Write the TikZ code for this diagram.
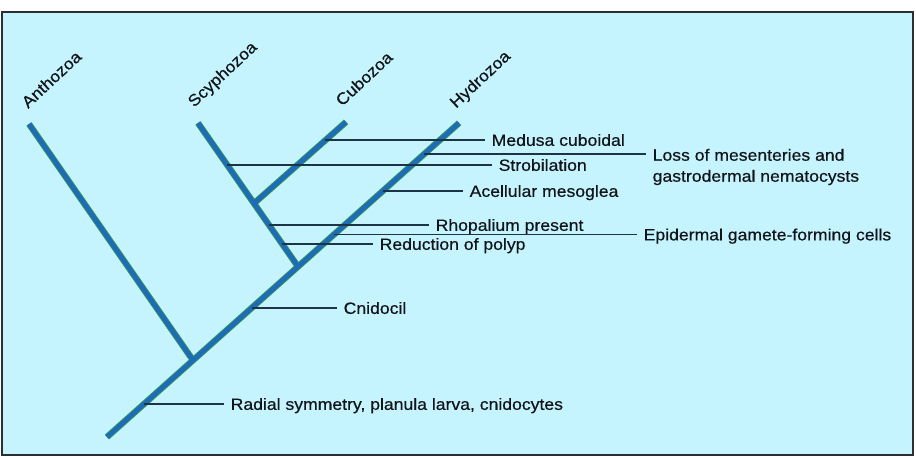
\documentclass[tikz,border=0pt]{standalone}
\usepackage{fontspec}
\setmainfont{Liberation Sans}[FakeStretch=1.08,FakeBold=0.5]
\definecolor{bg}{HTML}{C6F4FE}
\definecolor{boxc}{HTML}{2A2F33}
\definecolor{branchblue}{HTML}{1E6CB8}
\definecolor{branchgreen}{HTML}{3A9E4E}
\definecolor{tickc}{HTML}{1C3443}
\definecolor{txt}{HTML}{111418}
\begin{document}
\begin{tikzpicture}[x=1pt,y=-1pt,
  branch/.style={draw=branchblue, line width=4.8pt,
    preaction={draw=branchgreen, line width=6.4pt}},
  tick/.style={draw=tickc, line width=1.4pt},
  lblbase/.style={anchor=west, inner xsep=6.5pt, inner ysep=0pt, text=txt,
    font=\fontsize{16.3}{21}\selectfont},
  lbl/.style={lblbase, text height=11.7pt, text depth=0pt},
  taxon/.style={anchor=base west, rotate=43, inner sep=0pt, text=txt,
    font=\fontsize{16.3}{20}\selectfont}]
\useasboundingbox (0,0) rectangle (916,458);
\fill[white] (0,0) rectangle (916,458);
\draw[fill=bg, draw=boxc, line width=1.5pt] (2,12) rectangle (913,455);

% tree skeleton
\coordinate (root) at (107,437);
\coordinate (hyd) at (459,123);
\coordinate (ant) at (29,124);
\coordinate (j1) at (193,360.3);
\coordinate (scy) at (198,123);
\coordinate (j2) at (298,266.6);
\coordinate (cub) at (346,122);
\coordinate (j3) at (254,203.4);

\path[branch] (root) -- (hyd) (ant) -- (j1) (scy) -- (j2) (cub) -- (j3);

% taxon labels
\node[taxon] (tant) at (28,109) {Anthozoa};
\node[taxon] (tscy) at (194,108) {Scyphozoa};
\node[taxon] (tcub) at (342,107) {Cubozoa};
\node[taxon] (thyd) at (456,109) {Hydrozoa};

% character points on branches
\coordinate (pmed) at (324.5,140);
\coordinate (ploss) at (424.3,154);
\coordinate (pstr) at (227.2,165);
\coordinate (pace) at (382.8,191);
\coordinate (prho) at (269,225);
\coordinate (pepi) at (333.5,234.5);
\coordinate (pred) at (282.3,244);
\coordinate (pcni) at (251.6,308);
\coordinate (prad) at (144,404);

% character labels
\node[lbl] (med) at (485,140) {Medusa cuboidal};
\node[lblbase, align=left] (loss) at (646,167) {Loss of mesenteries and\\gastrodermal nematocysts};
\node[lbl] (str) at (492,165) {Strobilation};
\node[lbl] (ace) at (463,191) {Acellular mesoglea};
\node[lbl] (rho) at (429,225) {Rhopalium present};
\node[lbl] (epi) at (637,234.5) {Epidermal gamete-forming cells};
\node[lbl] (red) at (373,244) {Reduction of polyp};
\node[lbl] (cni) at (337,308) {Cnidocil};
\node[lbl] (rad) at (224,404) {Radial symmetry, planula larva, cnidocytes};

% connectors
\draw[tick] (pmed) -- (med.west);
\draw[tick] (ploss) -- (loss.west |- ploss);
\draw[tick] (pstr) -- (str.west);
\draw[tick] (pace) -- (ace.west);
\draw[tick] (prho) -- (rho.west);
\draw[tick] (pepi) -- (epi.west);
\draw[tick] (pred) -- (red.west);
\draw[tick] (pcni) -- (cni.west);
\draw[tick] (prad) -- (rad.west);
\end{tikzpicture}
\end{document}
